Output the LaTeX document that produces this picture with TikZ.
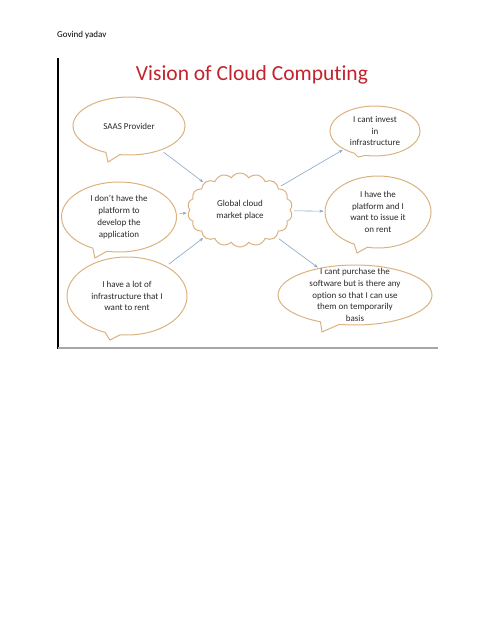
\documentclass[tikz,border=0pt]{standalone}
\usepackage{fontspec}
\setmainfont{Carlito}[Ligatures=NoCommon]
\usepackage{tikz}
\usetikzlibrary{arrows.meta,shapes.callouts,shapes.symbols}
\definecolor{bubbleline}{RGB}{218,178,128}
\definecolor{arrowblue}{RGB}{135,165,200}
\definecolor{titlered}{RGB}{195,35,45}
\definecolor{textgray}{RGB}{40,40,40}

\begin{document}
\begin{tikzpicture}[x=1pt,y=-1pt]
\tikzstyle{every node}+=[inner sep=0pt]
\tikzstyle{bubble}=[ellipse callout, draw=bubbleline, line width=1pt]
\tikzstyle{bubbletext}=[align=center, text=textgray, font=\fontsize{9}{11.8}\selectfont]
\tikzstyle{arr}=[arrowblue, line width=0.6pt, -{Stealth[length=4pt,width=3pt]}, shorten <=3pt, shorten >=1pt]
\useasboundingbox (0,0) rectangle (495,640);
\node [anchor=base west, font=\fontsize{9}{11}\selectfont] (author) at (57,37) {Govind yadav};
\node [anchor=base, text=titlered, font=\fontsize{21.5}{26}\selectfont] (title) at (252,80) {Vision of Cloud Computing};
\draw [black, line width=1.5pt] (58,58) -- (58,348.5);
\draw [black!35, line width=1.5pt] (58,348) -- (438,348);
\node [bubble, minimum width=112, minimum height=58, callout absolute pointer={(108,162)},
  label={[bubbletext]center:SAAS Provider}] (saas) at (129,126) {};
\node [bubble, minimum width=115, minimum height=70, callout absolute pointer={(95,258)},
  label={[bubbletext]center:{I don't have the\\platform to\\develop the\\application}}] (noplat) at (119,217) {};
\node [bubble, minimum width=120, minimum height=78, callout absolute pointer={(110,340)},
  label={[bubbletext]center:{I have a lot of\\infrastructure that I\\want to rent}}] (infra) at (127,296) {};
\node [cloud, draw=bubbleline, line width=1pt, cloud puffs=18, cloud puff arc=115, aspect=1.4,
  minimum width=105, minimum height=74,
  label={[bubbletext]center:{Global cloud\\market place}}] (gcm) at (240,210) {};
\node [bubble, minimum width=90, minimum height=50, callout absolute pointer={(358,157)},
  label={[bubbletext]center:{I cant invest\\in\\infrastructure}}] (invest) at (375,131) {};
\node [bubble, minimum width=106, minimum height=72, callout absolute pointer={(357,253)},
  label={[bubbletext]center:{I have the\\platform and I\\want to issue it\\on rent}}] (issue) at (378,212) {};
\node [bubble, minimum width=154, minimum height=60, callout absolute pointer={(322,332)},
  label={[bubbletext]center:{I cant purchase the\\software but is there any\\option so that I can use\\them on temporarily\\basis}}] (purchase) at (355,295) {};
\draw [arr] (saas) -- (gcm);
\draw [arr] (noplat) -- (gcm);
\draw [arr] (infra) -- (gcm);
\draw [arr] (gcm) -- (invest);
\draw [arr] (gcm) -- (issue);
\draw [arr] (gcm) -- (purchase);
\end{tikzpicture}
\end{document}
